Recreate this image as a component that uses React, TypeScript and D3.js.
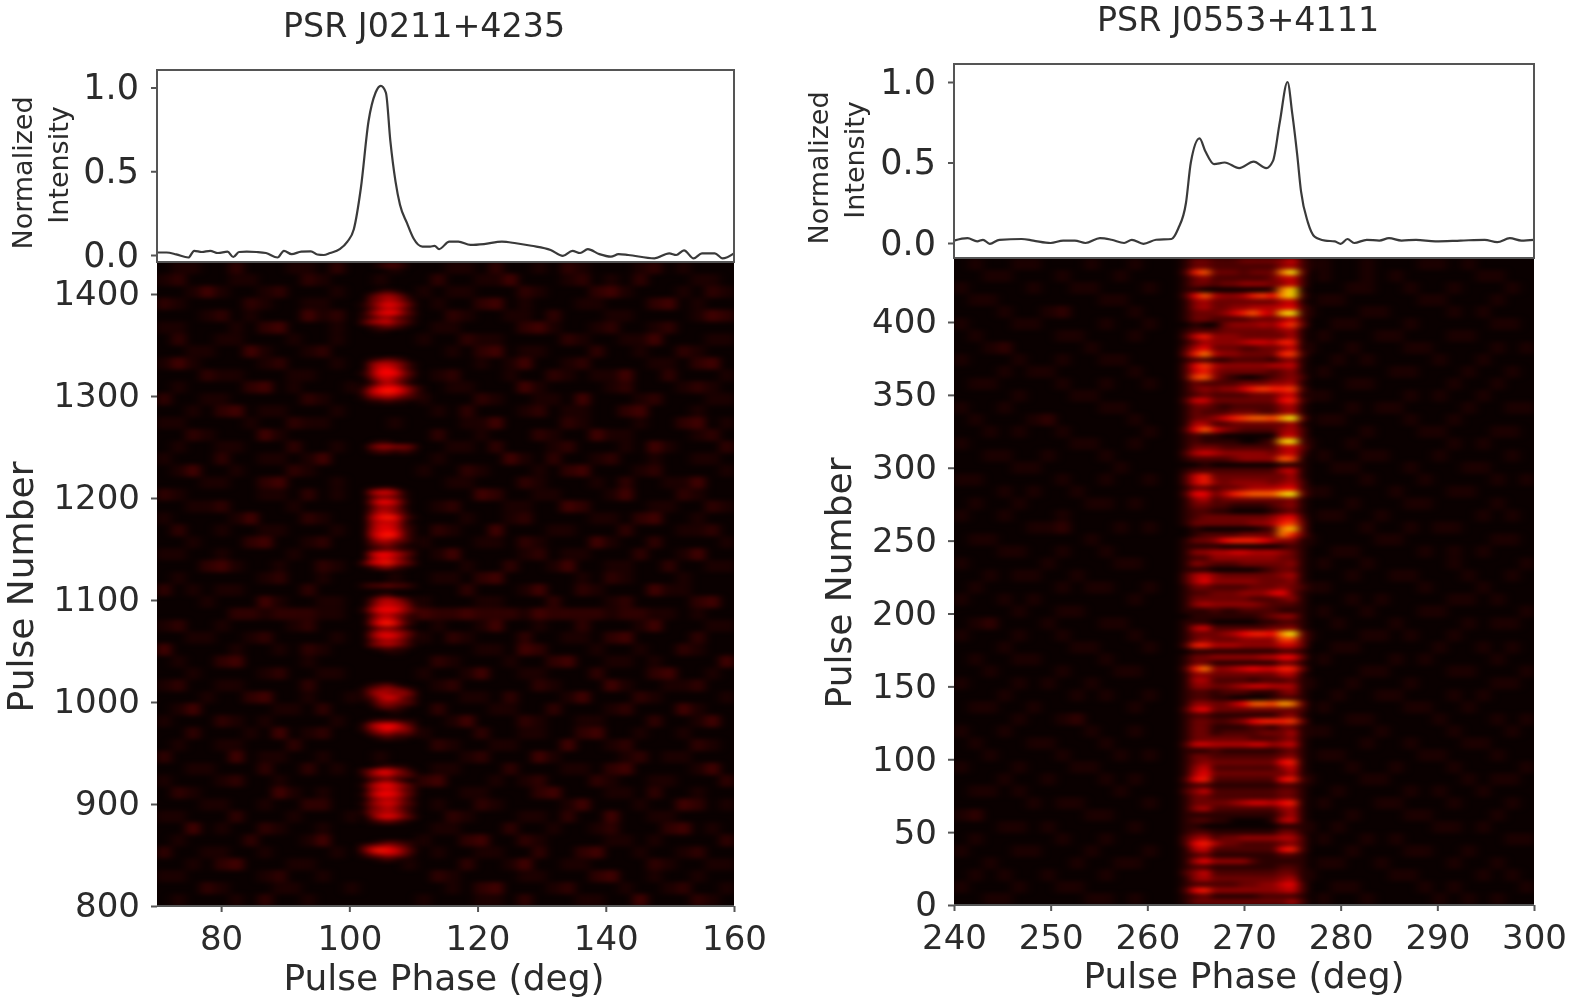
import { useRef, useEffect } from 'react'
import * as d3 from 'd3'

// pulse profiles
const leftPhase = [70, 71.5, 73, 74.9, 75.8, 77, 78.3, 79.5, 81, 81.9, 82.8, 84, 85.5, 87, 88.8, 89.8, 91, 92.5, 94, 95, 96, 97, 98.5, 99.7, 100.7, 101.8, 103, 104.1, 104.9, 105.7, 106.4, 107.2, 107.9, 109, 110, 111.4, 112.6, 113.3, 114, 115.6, 117, 118.9, 121, 123.8, 126, 128.4, 131.4, 133.3, 134.8, 136, 137.2, 139, 140.8, 142, 143.5, 147.6, 149.9, 151, 152.2, 153.7, 155, 157, 158.2, 160]
const leftProfile = [0.015, 0.015, 0.004, -0.015, 0.025, 0.018, 0.025, 0.012, 0.02, -0.012, 0.018, 0.02, 0.018, 0.012, -0.015, 0.025, 0.005, 0.02, 0.022, 0.003, 0.0, 0.012, 0.035, 0.08, 0.154, 0.4, 0.8, 0.97, 1.01, 0.97, 0.68, 0.44, 0.3, 0.19, 0.1, 0.05, 0.05, 0.055, 0.035, 0.08, 0.08, 0.06, 0.065, 0.08, 0.07, 0.055, 0.03, -0.005, 0.025, 0.012, 0.035, 0.005, -0.01, 0.005, 0.0, -0.02, 0.01, 0.0, 0.028, -0.02, 0.01, 0.01, -0.02, 0.01]
const rightPhase = [240, 241.4, 242.4, 243, 243.7, 244.7, 247, 248.2, 250, 251.3, 252.5, 253.6, 255.1, 256.3, 257.6, 258.4, 259.6, 260.9, 262.5, 263.2, 264, 264.5, 265.4, 266, 266.9, 268, 269.5, 271, 272.3, 273, 273.7, 274.5, 275, 275.5, 275.9, 276.6, 277.3, 278.4, 279.4, 280, 280.7, 281.4, 282.7, 284, 285, 286.3, 287.8, 289.8, 292.4, 294.9, 296.2, 297.5, 298.7, 300]
const rightProfile = [0.015, 0.03, 0.01, 0.02, -0.005, 0.02, 0.025, 0.015, 0.0, 0.015, 0.015, 0.0, 0.03, 0.02, 0.0, 0.02, -0.005, 0.02, 0.025, 0.09, 0.25, 0.5, 0.65, 0.57, 0.49, 0.5, 0.465, 0.505, 0.465, 0.51, 0.75, 1.0, 0.8, 0.55, 0.32, 0.13, 0.04, 0.015, 0.01, -0.005, 0.025, 0.0, 0.02, 0.015, 0.03, 0.015, 0.02, 0.01, 0.015, 0.02, 0.005, 0.03, 0.015, 0.02]

const leftPhaseTicks = [80, 100, 120, 140, 160]
const rightPhaseTicks = [240, 250, 260, 270, 280, 290, 300]
const intensityTicks = [0, 0.5, 1]
const leftPulseTicks = [800, 900, 1000, 1100, 1200, 1300, 1400]
const rightPulseTicks = [0, 50, 100, 150, 200, 250, 300, 350, 400]

// on-pulse emission, one hex digit per phase column
const leftBurstPhase = [101, 102.25, 103.5, 104.75, 106, 107.25, 108.5, 109.75, 111]
const leftBurstPulse = [1428, 1402, 1398, 1394, 1389, 1385, 1381, 1377, 1372, 1368, 1335, 1331, 1326, 1322, 1317, 1313, 1308, 1304, 1299, 1295, 1254, 1250, 1246, 1208, 1205, 1201, 1196, 1191, 1186, 1181, 1176, 1172, 1167, 1163, 1158, 1154, 1149, 1145, 1141, 1136, 1132, 1114, 1104, 1100, 1095, 1090, 1085, 1081, 1077, 1072, 1068, 1064, 1060, 1056, 1052, 1016, 1012, 1008, 1004, 999, 995, 981, 977, 973, 969, 965, 936, 932, 928, 924, 922, 918, 913, 909, 904, 900, 896, 892, 887, 883, 862, 858, 854, 850, 846]
const leftBurstCells = [
  '000122100', '000121000', '002454200', '003465310', '013687520', '002465310', '014788420', '012453210', '025674310', '001232100',
  '001232100', '004665310', '004786310', '014888420', '003675310', '001464200', '014788531', '026898631', '014565321', '001121100',
  '000110000', '003554430', '001221210',
  '001231000', '005775100', '002443100', '004886200', '002554100', '003664200', '005898310', '004666200', '004776210', '005787310', '005898310', '003664310', '002342100', '001232110', '006886420', '004775310', '027896420', '001342100',
  '012232210',
  '000120000', '002565310', '003676520', '015888530', '002564310', '003675210', '004897310', '001343100', '003665420', '004787420', '002454310', '003565310', '000121100',
  '001231000', '013454310', '014654530', '012576320', '001454320', '000232100',
  '001222110', '015787420', '014686530', '002453320', '000121100',
  '000121100', '024775310', '014674320', '000121000',
  '002453100', '015786420', '004676320', '015887420', '003565310', '014676320', '003464210', '014565310', '003787420', '001232100',
  '000122110', '024564310', '037987420', '013565310', '000121000',
]

const rightBurstPhase = [264, 265, 266, 267, 268, 269, 270, 271, 272, 273, 274, 275, 276]
const rightBurstPulse = d3.range(442, -2, -4)
const rightBurstCells = [
  '1332223333462', '1332222222452', '28a3332333bf3', '1342222223562', '1332334443462', '1100000001be1', '27a5445897ce2', '1453333333561',
  '1453344555672', '1333468a75df2', '1332222333462', '0100344454793', '1222333333451', '2684443333351', '1354445665881', '2573332233461',
  '38b5443333892', '1221122221341', '2795444445561', '2684333332341', '29a4210012342', '1322223334451', '1343446898892', '1232222333561',
  '2663333333782', '1332122222451', '1322233322451', '1334689aa9cf3', '1552233333351', '27a6432222452', '1211000000562', '1211110012df2',
  '1333222222563', '2565444443562', '1222234444a91', '0010000000111', '1222222222561', '2683333333351', '2684344443452', '1332334555672',
  '2773589aaadf3', '1452333333341', '1332211112341', '1221100001231', '1233333334672', '1333333445893', '0100000012bd3', '0122223333b83',
  '1334788875441', '1111000000121', '1445566555431', '1224444444331', '1432223333341', '1110000012331', '2564333333451', '2574444433341',
  '1332222333432', '1223334446731', '1333333222341', '1454444432221', '1112112222111', '0111111123441', '1110000011221', '1562222223341',
  '1333457887cf3', '1343334444993', '2885554444663', '0111111111221', '1334444455773', '1331111111331', '28b4456766883', '1443333333551',
  '1552222122231', '1443345665551', '1221222111341', '1221100001221', '1443357aa9cb3', '2673333333332', '1221111111341', '1332234788893',
  '1331111221331', '1331222233351', '1333333222341', '2665555664561', '1112111111231', '1332222222341', '1343333333781', '1462222222461',
  '1573333333351', '2782222222782', '1221111111221', '2462222222331', '1332222222331', '1333345665781', '1452222222451', '1111111111351',
  '1221100001561', '1100000000111', '1221111111331', '2452334444552', '2785332222342', '1562222222782', '1231111111221', '1574444211111',
  '1221111111221', '2462222222331', '1453333333451', '1222223344672', '2784444444562', '1231111122221', '1333333333352',
]

// off-pulse speckle, coarse grid over the whole image
const leftSpeckle = [
  '0110020001102000100011020010210001201000',
  '1200011000210001000200113000120102000110',
  '0013100120001000001011000210002310001021',
  '2100002100110000000100230100011000230100',
  '0001201000312000000021001102000110000132',
  '1100010230001001000110000231001200120000',
  '0200110001001000001002110000210011300011',
  '0011003100120000000010230110002001002100',
  '1310000120001000100000101300120000110230',
  '0002110001100000000120001002101130020001',
  '0100002301000100000011000310000120001210',
  '2001100000210000001000210011030001200011',
  '0010230110001000000102000120110023000100',
  '1100001002110000100001130000210001002301',
  '0021000310000000000200100021003110000120',
  '0100110002001001000011020001200010310002',
  '1000200110130000000100003102001200100110',
  '0130010002100000001002100010230001200001',
  '0001100230001000000011000210001020011300',
  '2100000110201000000000320011000130002100',
  '0011200001000000100120001100320000110021',
  '1000013000210000000001001200001102300100',
  '0200100110001001000210030001100020001120',
  '0010002300120000001000110210003100200001',
  '1100100001000000000130000120110002001300',
  '0002310010021000000001002001300110020011',
  '0100000120010000100110230000010210001000',
  '2010110000200000000002000130021000311000',
  '0001000310011000001000110002000120000230',
  '0000022122211001223223222132222122110100',
  '1200100001200000000100130010020001300011',
  '0011001200001000001021000200110230000200',
  '3000010010210000100000110320001001002100',
  '0100230000100000000210001002300110100003',
  '0010000120011000001001300110002000230010',
  '1200110000200000000120000021000310011200',
  '0001002300100100000001102000130002100001',
  '0130000011020000100200011002000120003100',
  '1000210100001000000013000210011000200130',
  '0020001030120000001000200110023001001000',
  '0100110002000000000210011000300120000210',
  '2000030110010001000001200031000012011000',
  '0011000200201000000110002000110230000130',
  '1000120010000000002300010120002100110002',
  '0210000031010000000001100023000110200100',
  '0001100100220000100100210000130001003201',
  '1100020001000100000021000110200300110000',
  '0030100210010000000110002001001200023010',
  '0100002000130000001002300210000110100002',
  '2001100100001000000100110020023001001200',
  '0010230001100000010002001300110000210011',
  '1100000120010000000210000110002300100100',
  '0002100011000100000010230001200010012001',
  '0100010200100000001000110200011003000210',
]
const rightSpeckle = [
  '0100110001001000000000001100100011010000',
  '0011000100010000000000000100101000001100',
  '1000010011000100000000000001100100100010',
  '0110000000110000000000000110000011000100',
  '0001001200001000000000001000110000101000',
  '1000110000100100000000000011000100000110',
  '0100000110001000000000000100011000110000',
  '0012000001000000000000001001000110000101',
  '1000100100110000000000000010100001001000',
  '0001011000001000000000000100001100010010',
  '0110000100100100000000000001100000100100',
  '0000100011000000000000001100000101001000',
  '1001000000110000000000000001011000010011',
  '0100012000001000000000000110000100100000',
  '0010100100000100000000000000100011000110',
  '1000000011001000000000001001000000101000',
  '0011001000100000000000000100110001000010',
  '0000110000010000000000000011000100011000',
  '1100000100100100000000000000100010000101',
  '0001010010000000000000001100001000110000',
  '0100100001101000000000000001000110000100',
  '1001000100000000000000000110010000001010',
  '0000011200010100000000000000100101100000',
  '0110000001000000000000001000011000000110',
  '0001100100100000000000000011000010101000',
  '1000001000011000000000000100100000100001',
  '0010110010000000000000000001001100010010',
  '0100000101100100000000001100000010001000',
  '1001010000001000000000000001010000110100',
  '0000100110000000000000000100100011000001',
  '0120001000110000000000000010001000010110',
  '1000100100001000000000001000110100100000',
  '0001000011000100000000000011000001001010',
  '0100110000100000000000000100001010000100',
  '0010000100011000000000000000110000110001',
  '1000101001000000000000001001000100000110',
  '0001000010100100000000000010011000101000',
  '0110010000001000000000000100000110010000',
  '0000100120000000000000000001100001000101',
  '1001000001001000000000001100010000100010',
  '0100011000100000000000000000100100011000',
  '0010000100010100000000000110000011000100',
  '1000100011000000000000000001001000100001',
  '0001001000101000000000001000110000010110',
  '0110100000010000000000000010000101001000',
  '0000010110000100000000000100011000100010',
  '1200000001100000000000000001000110000100',
  '0001101000001000000000001010000001101000',
  '0100000100100000000000000100101000000011',
  '1000110001000100000000000001000110010000',
  '0010000010011000000000000110010000100100',
  '0101001000100000000000001000001100001010',
  '1000100110000000000000000011000010100001',
  '0011000001101000000000000100100001010100',
]

// matplotlib "hot", only the low part is reached by the digits
const hot = d3
  .scaleLinear<string>()
  .domain([0, 0.365, 0.746, 1])
  .range(['#0a0000', '#ff0000', '#ffff00', '#ffffff'])
const digitColor = (c: string, gain: number) => hot((parseInt(c, 16) / 15) * 0.8 * gain)

const font = 'DejaVu Sans, sans-serif'
const textColor = '#2b2b2b'
const spineColor = '#555'

interface Panel {
  id: string
  title: string
  titleX: number
  titleY: number
  x0: number
  x1: number
  top: number
  split: number
  bottom: number
  phaseDomain: [number, number]
  phaseTicks: number[]
  profilePhase: number[]
  profile: number[]
  zeroY: number
  oneY: number
  pulseDomain: [number, number]
  pulseRange: [number, number]
  pulseTicks: number[]
  speckle: string[]
  speckleGain: number
  burstPhase: number[]
  burstPulse: number[]
  burstCells: string[]
  burstStep: number
  burstEdges: [number, number]
  burstBlur: string
  burstGain: number
  normX: number
  intX: number
  normY: number
  intY: number
  pulseLabelX: number
  pulseLabelY: number
  phaseLabelX: number
  phaseLabelY: number
}

function drawPanel(root: d3.Selection<SVGGElement, unknown, null, undefined>, p: Panel) {
  const x = d3.scaleLinear().domain(p.phaseDomain).range([p.x0, p.x1])
  const yTop = d3.scaleLinear().domain([0, 1]).range([p.zeroY, p.oneY])
  const yPulse = d3.scaleLinear().domain(p.pulseDomain).range(p.pulseRange)
  const g = root.append('g')

  const defs = g.append('defs')
  defs
    .append('clipPath')
    .attr('id', `clip-${p.id}`)
    .append('rect')
    .attr('x', p.x0)
    .attr('y', p.split)
    .attr('width', p.x1 - p.x0)
    .attr('height', p.bottom - p.split)
  const blur = (id: string, dev: string) =>
    defs
      .append('filter')
      .attr('id', id)
      .attr('filterUnits', 'userSpaceOnUse')
      .attr('x', p.x0 - 40)
      .attr('y', p.split - 40)
      .attr('width', p.x1 - p.x0 + 80)
      .attr('height', p.bottom - p.split + 80)
      .attr('color-interpolation-filters', 'sRGB')
      .append('feGaussianBlur')
      .attr('stdDeviation', dev)
  blur(`speckle-${p.id}`, '5 2.2')
  blur(`burst-${p.id}`, p.burstBlur)

  // profile panel
  g.append('path')
    .datum(p.profile)
    .attr('fill', 'none')
    .attr('stroke', '#3a3a3a')
    .attr('stroke-width', 2.2)
    .attr(
      'd',
      d3
        .line<number>()
        .x((_, i) => x(p.profilePhase[i]))
        .y(d => yTop(d))
        .curve(d3.curveMonotoneX)
    )

  // pulse stack
  const image = g.append('g').attr('clip-path', `url(#clip-${p.id})`)
  image
    .append('rect')
    .attr('x', p.x0)
    .attr('y', p.split)
    .attr('width', p.x1 - p.x0)
    .attr('height', p.bottom - p.split)
    .attr('fill', hot(0))

  const col = d3.scaleBand<number>().domain(d3.range(p.speckle[0].length)).range([p.x0, p.x1])
  const row = d3.scaleBand<number>().domain(d3.range(p.speckle.length)).range([p.split, p.bottom])
  image
    .append('g')
    .attr('filter', `url(#speckle-${p.id})`)
    .selectAll('g')
    .data(p.speckle)
    .join('g')
    .each(function (line, r) {
      d3.select(this)
        .selectAll('rect')
        .data(Array.from(line).map((c, i) => ({ c, i })).filter(d => d.c !== '0'))
        .join('rect')
        .attr('x', d => col(d.i) ?? -99)
        .attr('y', row(r) || 0)
        .attr('width', col.bandwidth())
        .attr('height', row.bandwidth())
        .attr('fill', d => digitColor(d.c, p.speckleGain))
    })

  const burstX = d3.scaleBand<number>().domain(p.burstPhase).range([x(p.burstEdges[0]), x(p.burstEdges[1])])
  image
    .append('g')
    .attr('filter', `url(#burst-${p.id})`)
    .selectAll('g')
    .data(p.burstCells)
    .join('g')
    .each(function (line, r) {
      const pulse = p.burstPulse[r]
      d3.select(this)
        .selectAll('rect')
        .data(Array.from(line).map((c, i) => ({ c, i })).filter(d => d.c !== '0'))
        .join('rect')
        .attr('x', d => burstX(p.burstPhase[d.i]) || 0)
        .attr('y', yPulse(pulse + p.burstStep / 2))
        .attr('width', burstX.bandwidth())
        .attr('height', yPulse(pulse - p.burstStep / 2) - yPulse(pulse + p.burstStep / 2))
        .attr('fill', d => digitColor(d.c, p.burstGain))
    })

  // spines
  g.append('rect')
    .attr('x', p.x0)
    .attr('y', p.top)
    .attr('width', p.x1 - p.x0)
    .attr('height', p.split - p.top)
    .attr('fill', 'none')
    .attr('stroke', spineColor)
    .attr('stroke-width', 2)
  g.append('line')
    .attr('x1', p.x0)
    .attr('x2', p.x1)
    .attr('y1', p.bottom)
    .attr('y2', p.bottom)
    .attr('stroke', spineColor)
    .attr('stroke-width', 2)

  const styleAxis = (a: d3.Selection<SVGGElement, unknown, null, undefined>, size: number) => {
    a.select('.domain').remove()
    a.selectAll('line').attr('stroke', spineColor).attr('stroke-width', 2)
    a.selectAll('text').attr('fill', textColor).attr('font-family', font).attr('font-size', size)
  }

  const top = g
    .append('g')
    .attr('transform', `translate(${p.x0},0)`)
    .call(d3.axisLeft(yTop).tickValues(intensityTicks).tickFormat(d3.format('.1f')).tickSize(6).tickPadding(12))
  styleAxis(top, 35)
  const left = g
    .append('g')
    .attr('transform', `translate(${p.x0},0)`)
    .call(d3.axisLeft(yPulse).tickValues(p.pulseTicks).tickFormat(d3.format('d')).tickSize(6).tickPadding(11))
  styleAxis(left, 34)
  const bottom = g
    .append('g')
    .attr('transform', `translate(0,${p.bottom})`)
    .call(d3.axisBottom(x).tickValues(p.phaseTicks).tickFormat(d3.format('d')).tickSize(6).tickPadding(14))
  styleAxis(bottom, 34)

  const label = (text: string, tx: number, ty: number, size: number, rotate = false) =>
    g
      .append('text')
      .attr('transform', `translate(${tx},${ty})${rotate ? ' rotate(-90)' : ''}`)
      .attr('text-anchor', 'middle')
      .attr('font-family', font)
      .attr('font-size', size)
      .attr('fill', textColor)
      .text(text)

  label(p.title, p.titleX, p.titleY, 33.3)
  label('Normalized', p.normX, p.normY, 27, true)
  label('Intensity', p.intX, p.intY, 27, true)
  label('Pulse Number', p.pulseLabelX, p.pulseLabelY, 36, true)
  label('Pulse Phase (deg)', p.phaseLabelX, p.phaseLabelY, 36)
}

const leftPanel: Panel = {
  id: 'left',
  title: 'PSR J0211+4235',
  titleX: 424,
  titleY: 37,
  x0: 157,
  x1: 734,
  top: 70,
  split: 262,
  bottom: 906,
  phaseDomain: [70, 160],
  phaseTicks: leftPhaseTicks,
  profilePhase: leftPhase,
  profile: leftProfile,
  zeroY: 255,
  oneY: 87.5,
  pulseDomain: [800, 1400],
  pulseRange: [906, 294],
  pulseTicks: leftPulseTicks,
  speckle: leftSpeckle,
  speckleGain: 0.5,
  burstPhase: leftBurstPhase,
  burstPulse: leftBurstPulse,
  burstCells: leftBurstCells,
  burstStep: 5,
  burstEdges: [100.4, 111.6],
  burstBlur: '5 2',
  burstGain: 0.85,
  normX: 32,
  intX: 68,
  normY: 173,
  intY: 165,
  pulseLabelX: 33,
  pulseLabelY: 587,
  phaseLabelX: 444,
  phaseLabelY: 990,
}

const rightPanel: Panel = {
  id: 'right',
  title: 'PSR J0553+4111',
  titleX: 1238,
  titleY: 31,
  x0: 954,
  x1: 1534,
  top: 64,
  split: 258,
  bottom: 905,
  phaseDomain: [240, 300],
  phaseTicks: rightPhaseTicks,
  profilePhase: rightPhase,
  profile: rightProfile,
  zeroY: 243,
  oneY: 82,
  pulseDomain: [0, 400],
  pulseRange: [905, 322],
  pulseTicks: rightPulseTicks,
  speckle: rightSpeckle,
  speckleGain: 0.5,
  burstPhase: rightBurstPhase,
  burstPulse: rightBurstPulse,
  burstCells: rightBurstCells,
  burstStep: 4,
  burstEdges: [263.5, 276.5],
  burstBlur: '5 2',
  burstGain: 0.95,
  normX: 828,
  intX: 864,
  normY: 168,
  intY: 160,
  pulseLabelX: 851,
  pulseLabelY: 583,
  phaseLabelX: 1244,
  phaseLabelY: 988,
}

export default function App() {
  const ref = useRef<SVGSVGElement>(null)

  useEffect(() => {
    if (!ref.current) return
    const svg = d3.select(ref.current)
    svg.selectAll('*').remove()
    // the source figure is an upscaled bitmap, everything is a little soft
    svg
      .append('defs')
      .append('filter')
      .attr('id', 'soft')
      .attr('filterUnits', 'userSpaceOnUse')
      .attr('x', 0)
      .attr('y', 0)
      .attr('width', 1570)
      .attr('height', 1004)
      .attr('color-interpolation-filters', 'sRGB')
      .append('feGaussianBlur')
      .attr('stdDeviation', 0.7)
    const root = svg.append('g').attr('filter', 'url(#soft)')
    drawPanel(root, leftPanel)
    drawPanel(root, rightPanel)
  }, [])

  return <svg ref={ref} width={1570} height={1004} style={{ position: 'absolute', left: 0, top: 0 }} />
}
